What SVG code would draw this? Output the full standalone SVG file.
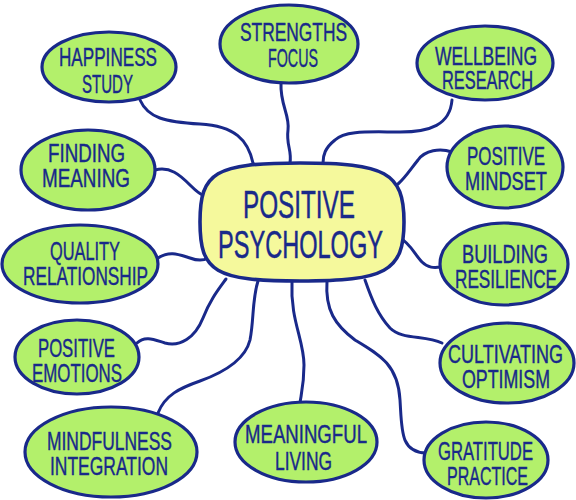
<svg xmlns="http://www.w3.org/2000/svg" width="576" height="500" viewBox="0 0 576 500">
<style>
.bg{fill:#ffffff}
.link{fill:none;stroke:#19298a;stroke-width:3;stroke-linecap:round}
.leaf{fill:#b3f06b;stroke:#19298a;stroke-width:3.2}
.hub{fill:#f5f99c;stroke:#19298a;stroke-width:3.6}
.t{font-family:"Liberation Sans Narrow","Liberation Sans",Arial,sans-serif;font-size:25px;fill:#19298a;stroke:#19298a;stroke-width:0.4}
.th{font-family:"Liberation Sans Narrow","Liberation Sans",Arial,sans-serif;font-size:39px;fill:#19298a;stroke:#19298a;stroke-width:0.5}
</style>
<rect class="bg" x="0" y="0" width="576" height="500"/>
<g id="connectors">
<path class="link" d="M140,100 C148,118 165,122 200,124 C235,126 248,140 253,163"/>
<path class="link" d="M281,83 C280,105 290,115 288,130 C286,145 292,150 290,163"/>
<path class="link" d="M452,100 C450,125 430,132 400,132 C370,132 345,130 335,140 C325,148 323,155 323,163"/>
<path class="link" d="M452,152 C440,148 425,150 418,160 C410,170 405,178 398,184"/>
<path class="link" d="M155,170 C170,166 180,175 190,185 C195,190 200,195 205,196"/>
<path class="link" d="M158,258 C170,250 180,255 190,258 C198,261 203,261 208,258"/>
<path class="link" d="M400,238 C410,243 415,255 422,262 C428,268 434,268 441,267"/>
<path class="link" d="M137,343 C145,335 155,340 165,343 C180,347 195,338 203,318 C210,300 218,290 226,279"/>
<path class="link" d="M158,413 C165,395 180,388 200,381 C225,372 245,360 250,340 C254,320 252,300 258,281"/>
<path class="link" d="M292,281 C290,320 304,340 304,365 C304,385 301,395 300,403"/>
<path class="link" d="M327,281 C325,310 335,325 355,340 C380,355 398,365 400,400 C402,430 400,452 426,453"/>
<path class="link" d="M365,280 C372,300 378,315 390,328 C402,340 425,335 442,343"/>
</g>
<g id="center">
<path class="hub" d="M300,163 C385,163 404,172 404,222 C404,272 385,281 300,281 C215,281 200,272 200,222 C200,172 215,163 300,163Z"/>
<text class="th" x="243" y="218" textLength="112" lengthAdjust="spacingAndGlyphs">POSITIVE</text>
<text class="th" x="218" y="258" textLength="165" lengthAdjust="spacingAndGlyphs">PSYCHOLOGY</text>
</g>
<g id="happiness-study">
<ellipse class="leaf" cx="109" cy="67" rx="67" ry="35"/>
<text class="t" x="59" y="66" textLength="98" lengthAdjust="spacingAndGlyphs">HAPPINESS</text>
<text class="t" x="82" y="93" textLength="51" lengthAdjust="spacingAndGlyphs">STUDY</text>
</g>
<g id="strengths-focus">
<ellipse class="leaf" cx="289" cy="44" rx="69" ry="39"/>
<text class="t" x="240" y="41" textLength="107" lengthAdjust="spacingAndGlyphs">STRENGTHS</text>
<text class="t" x="268" y="67" textLength="50" lengthAdjust="spacingAndGlyphs">FOCUS</text>
</g>
<g id="wellbeing-research">
<ellipse class="leaf" cx="485" cy="63" rx="68" ry="37"/>
<text class="t" x="435" y="65" textLength="102" lengthAdjust="spacingAndGlyphs">WELLBEING</text>
<text class="t" x="442" y="89" textLength="91" lengthAdjust="spacingAndGlyphs">RESEARCH</text>
</g>
<g id="finding-meaning">
<ellipse class="leaf" cx="88" cy="170" rx="67" ry="40"/>
<text class="t" x="48" y="162" textLength="77" lengthAdjust="spacingAndGlyphs">FINDING</text>
<text class="t" x="42" y="187" textLength="88" lengthAdjust="spacingAndGlyphs">MEANING</text>
</g>
<g id="quality-relationship">
<ellipse class="leaf" cx="80" cy="264" rx="78" ry="39"/>
<text class="t" x="50" y="260" textLength="70" lengthAdjust="spacingAndGlyphs">QUALITY</text>
<text class="t" x="23" y="285" textLength="125" lengthAdjust="spacingAndGlyphs">RELATIONSHIP</text>
</g>
<g id="positive-mindset">
<ellipse class="leaf" cx="505" cy="167" rx="58" ry="41"/>
<text class="t" x="467" y="165" textLength="78" lengthAdjust="spacingAndGlyphs">POSITIVE</text>
<text class="t" x="465" y="190" textLength="82" lengthAdjust="spacingAndGlyphs">MINDSET</text>
</g>
<g id="building-resilience">
<ellipse class="leaf" cx="504" cy="264" rx="64" ry="41"/>
<text class="t" x="462" y="263" textLength="86" lengthAdjust="spacingAndGlyphs">BUILDING</text>
<text class="t" x="455" y="288" textLength="102" lengthAdjust="spacingAndGlyphs">RESILIENCE</text>
</g>
<g id="positive-emotions">
<ellipse class="leaf" cx="77" cy="357" rx="62" ry="37"/>
<text class="t" x="38" y="357" textLength="77" lengthAdjust="spacingAndGlyphs">POSITIVE</text>
<text class="t" x="32" y="382" textLength="90" lengthAdjust="spacingAndGlyphs">EMOTIONS</text>
</g>
<g id="mindfulness-integration">
<ellipse class="leaf" cx="111" cy="452" rx="86" ry="45"/>
<text class="t" x="47" y="450" textLength="125" lengthAdjust="spacingAndGlyphs">MINDFULNESS</text>
<text class="t" x="50" y="475" textLength="118" lengthAdjust="spacingAndGlyphs">INTEGRATION</text>
</g>
<g id="meaningful-living">
<ellipse class="leaf" cx="306" cy="442" rx="71" ry="40"/>
<text class="t" x="245" y="443" textLength="122" lengthAdjust="spacingAndGlyphs">MEANINGFUL</text>
<text class="t" x="275" y="470" textLength="57" lengthAdjust="spacingAndGlyphs">LIVING</text>
</g>
<g id="cultivating-optimism">
<ellipse class="leaf" cx="507" cy="363" rx="67" ry="40"/>
<text class="t" x="448" y="363" textLength="115" lengthAdjust="spacingAndGlyphs">CULTIVATING</text>
<text class="t" x="462" y="388" textLength="88" lengthAdjust="spacingAndGlyphs">OPTIMISM</text>
</g>
<g id="gratitude-practice">
<ellipse class="leaf" cx="486" cy="460" rx="62" ry="38"/>
<text class="t" x="438" y="460" textLength="95" lengthAdjust="spacingAndGlyphs">GRATITUDE</text>
<text class="t" x="447" y="485" textLength="81" lengthAdjust="spacingAndGlyphs">PRACTICE</text>
</g>
</svg>
